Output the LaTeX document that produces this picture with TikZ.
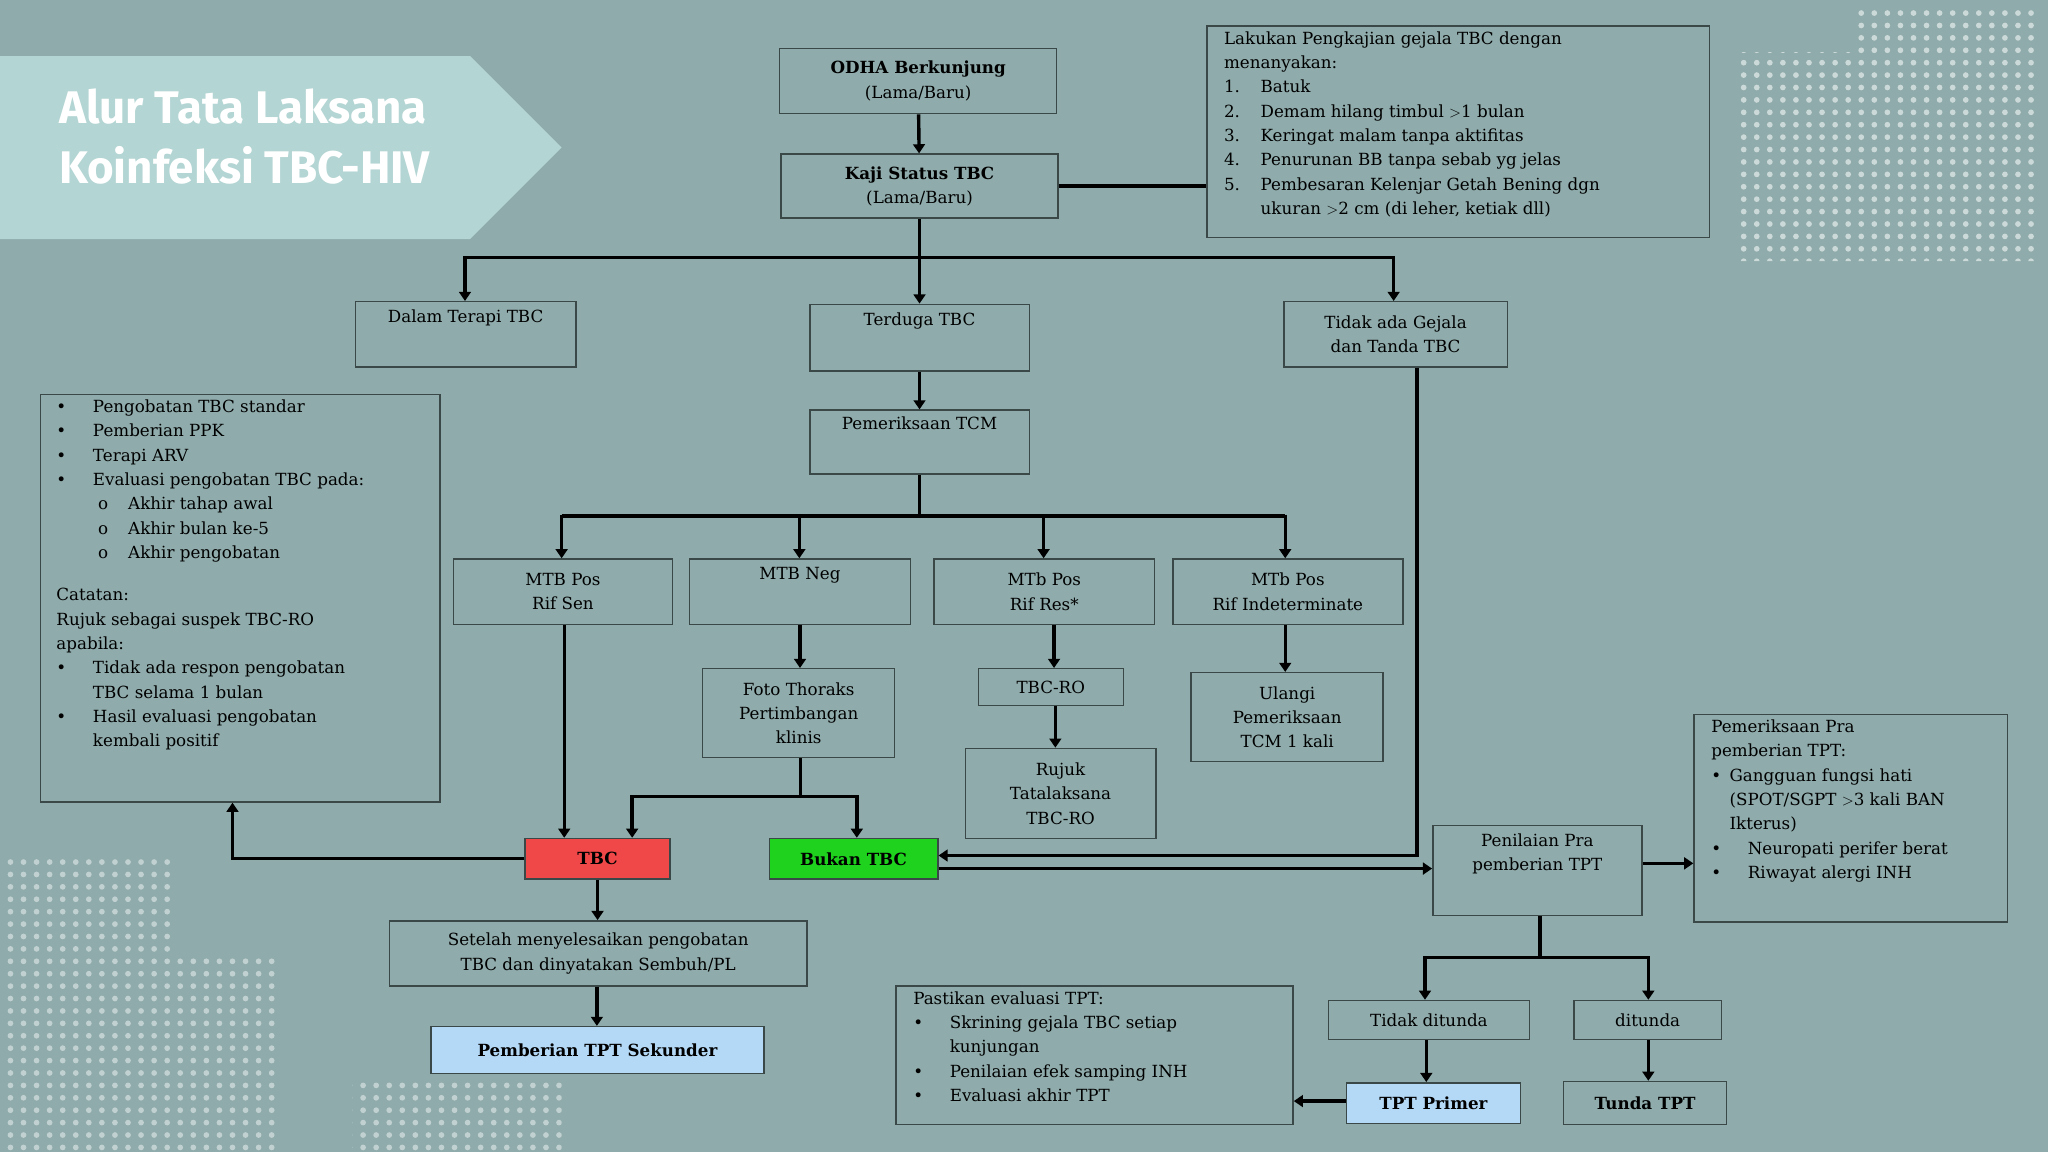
\documentclass[tikz,border=0pt]{standalone}
\usepackage{fontspec}
\setmainfont{DejaVu Serif}
\newfontfamily\titlef{Fira Sans}
\usetikzlibrary{arrows.meta}
\definecolor{bg}{HTML}{8FABAB}
\definecolor{ban}{HTML}{B3D5D3}
\definecolor{ln}{HTML}{3A4848}
\definecolor{redb}{HTML}{F04848}
\definecolor{grnb}{HTML}{1ED21E}
\definecolor{blub}{HTML}{B3D9F7}
\newcommand{\bl}[1]{\makebox[28pt][l]{\textbullet}#1}
\newcommand{\ci}[1]{\hspace{32pt}\makebox[23pt][l]{o}#1}
\newcommand{\ind}[1]{\hspace{28pt}#1}
\begin{document}
\begin{tikzpicture}[x=1pt,y=-1pt,font=\fontsize{12.8}{18.6}\selectfont,
  box/.style={draw=ln,line width=1.1pt,fill=bg,align=center,inner sep=2pt},
  txt/.style={align=left,anchor=north west,inner sep=0pt},
  con/.style={line width=2.6pt,black},
  arr/.style={con,-{Triangle[length=7pt,width=9pt]}}]
\fill[bg] (0,0) rectangle (1568,882);
\useasboundingbox (0,0) rectangle (1568,882);
% dots
\begin{scope}
\clip (1330,40) rectangle (1560,200) (1420,5) rectangle (1560,40);
\foreach \i in {0,...,24} \foreach \j in {0,...,20}
  \fill[white,opacity=0.55] (1325+\i*10,10+\j*9.5) circle (2.2);
\end{scope}
\foreach \i in {0,...,5} \fill[white,opacity=0.5] (1215+\i*10,78) circle (2.2);
\foreach \i in {0,...,4} \fill[white,opacity=0.5] (1240+\i*10,53) circle (2.2);
\begin{scope}
\clip (0,655) rectangle (135,882) (0,730) rectangle (215,882) (270,825) rectangle (430,882);
\foreach \i in {0,...,42} \foreach \j in {0,...,23}
  \fill[white,opacity=0.45] (8+\i*10,660+\j*9.5) circle (2.2);
\end{scope}
% banner
\fill[ban] (0,43) -- (360,43) -- (430,113) -- (360,183) -- (0,183) -- cycle;
\node[txt,text=white,font=\titlef\bfseries\fontsize{35}{46}\selectfont] (title) at (45,68) {Alur Tata Laksana\\Koinfeksi TBC-HIV};
% nodes
\node[box,minimum width=212,minimum height=50] (odha) at (703,62) {\textbf{ODHA Berkunjung}\\(Lama/Baru)};
\node[box,minimum width=212,minimum height=49] (kaji) at (704,142.5) {\textbf{Kaji Status TBC}\\(Lama/Baru)};
\node[box,minimum width=385,minimum height=162] (gej) at (1116.5,101) {};
\node[txt] (gejt) at (937,24) {Lakukan Pengkajian gejala TBC dengan\\menanyakan:\\
\makebox[28pt][l]{1.}Batuk\\\makebox[28pt][l]{2.}Demam hilang timbul $>$1 bulan\\
\makebox[28pt][l]{3.}Keringat malam tanpa aktifitas\\\makebox[28pt][l]{4.}Penurunan BB tanpa sebab yg jelas\\
\makebox[28pt][l]{5.}Pembesaran Kelenjar Getah Bening dgn\\\ind{ukuran $>$2 cm (di leher, ketiak dll)}};
\node[box,minimum width=169,minimum height=50] (dalam) at (356.5,256) {Dalam Terapi TBC\\[10pt]};
\node[box,minimum width=168,minimum height=51] (terd) at (704,258.5) {Terduga TBC\\[10pt]};
\node[box,minimum width=171,minimum height=50] (tidak) at (1068.5,256) {Tidak ada Gejala\\dan Tanda TBC};
\node[box,minimum width=168,minimum height=49] (tcm) at (704,338.5) {Pemeriksaan TCM\\[10pt]};
\node[box,minimum width=168,minimum height=50] (pos) at (431,453) {MTB Pos\\Rif Sen};
\node[box,minimum width=169,minimum height=50] (neg) at (612.5,453) {MTB Neg\\[10pt]};
\node[box,minimum width=169,minimum height=50] (res) at (799.5,453) {MTb Pos\\Rif Res*};
\node[box,minimum width=176,minimum height=50] (indt) at (986,453) {MTb Pos\\Rif Indeterminate};
\node[box,minimum width=147,minimum height=68] (foto) at (611.5,546) {Foto Thoraks\\Pertimbangan\\klinis};
\node[box,minimum width=111,minimum height=28] (ro) at (804.5,526) {TBC-RO};
\node[box,minimum width=146,minimum height=69] (rujuk) at (812,607.5) {Rujuk\\Tatalaksana\\TBC-RO};
\node[box,minimum width=147,minimum height=68] (ulang) at (985.5,549) {Ulangi\\Pemeriksaan\\TCM 1 kali};
\node[box,fill=redb,minimum width=111,minimum height=31] (tbc) at (457.5,657.5) {\textbf{TBC}};
\node[box,fill=grnb,minimum width=129,minimum height=31] (bukan) at (653.5,657.5) {\textbf{Bukan TBC}};
\node[box,minimum width=306,minimum height=312] (left) at (184,458) {};
\node[txt] (leftt) at (43,306) {\bl{Pengobatan TBC standar}\\\bl{Pemberian PPK}\\\bl{Terapi ARV}\\
\bl{Evaluasi pengobatan TBC pada:}\\\ci{Akhir tahap awal}\\\ci{Akhir bulan ke-5}\\\ci{Akhir pengobatan}\\[14pt]
Catatan:\\Rujuk sebagai suspek TBC-RO\\apabila:\\\bl{Tidak ada respon pengobatan}\\\ind{TBC selama 1 bulan}\\
\bl{Hasil evaluasi pengobatan}\\\ind{kembali positif}};
\node[box,minimum width=320,minimum height=50] (set) at (458,730) {Setelah menyelesaikan pengobatan\\TBC dan dinyatakan Sembuh/PL};
\node[box,fill=blub,minimum width=255,minimum height=36] (sek) at (457.5,804) {\textbf{Pemberian TPT Sekunder}};
\node[box,minimum width=160,minimum height=69] (pen) at (1177,666.5) {Penilaian Pra\\pemberian TPT\\[10pt]};
\node[box,minimum width=240,minimum height=159] (pra) at (1417,626.5) {};
\node[txt] (prat) at (1310,551) {Pemeriksaan Pra\\pemberian TPT:\\\makebox[14pt][l]{\textbullet}Gangguan fungsi hati\\
\hspace{14pt}(SPOT/SGPT $>$3 kali BAN\\\hspace{14pt}Ikterus)\\\makebox[28pt][l]{\textbullet}Neuropati perifer berat\\\makebox[28pt][l]{\textbullet}Riwayat alergi INH};
\node[box,minimum width=154,minimum height=30] (tdt) at (1094,781) {Tidak ditunda};
\node[box,minimum width=113,minimum height=30] (dt) at (1261.5,781) {ditunda};
\node[box,fill=blub,minimum width=133,minimum height=31] (prim) at (1097.5,844.5) {\textbf{TPT Primer}};
\node[box,minimum width=125,minimum height=33] (tunda) at (1259.5,844.5) {\textbf{Tunda TPT}};
\node[box,minimum width=304,minimum height=106] (pas) at (838,808) {};
\node[txt] (past) at (699,759) {Pastikan evaluasi TPT:\\\bl{Skrining gejala TBC setiap}\\\ind{kunjungan}\\
\bl{Penilaian efek samping INH}\\\bl{Evaluasi akhir TPT}};
% connectors
\draw[arr] (odha) -- (kaji);
\draw[con] (kaji.east) -- (gej.west |- kaji.east);
\draw[arr] (kaji.south) -- (terd.north);
\draw[con] (356,197) -- (1067,197);
\draw[arr] (356,196) -- (dalam.north -| 356,0);
\draw[arr] (1067,196) -- (tidak.north -| 1067,0);
\draw[arr] (terd) -- (tcm);
\draw[con] (tcm.south) -- (704,395);
\draw[con] (430,395) -- (984,395);
\draw[arr] (430,394) -- (pos.north -| 430,0);
\draw[arr] (612,394) -- (neg.north -| 612,0);
\draw[arr] (799,394) -- (res.north -| 799,0);
\draw[arr] (984,394) -- (indt.north -| 984,0);
\draw[arr] (neg.south) -- (foto.north -| neg.south);
\draw[arr] (res.south -| 807,0) -- (ro.north -| 807,0);
\draw[arr] (ro.south -| 808,0) -- (rujuk.north -| 808,0);
\draw[arr] (indt.south -| 984,0) -- (ulang.north -| 984,0);
\draw[arr] (pos.south -| 432,0) -- (tbc.north -| 432,0);
\draw[con] (foto.south -| 613,0) -- (613,610);
\draw[con] (484,610) -- (656,610);
\draw[arr] (484,609) -- (tbc.north -| 484,0);
\draw[arr] (656,609) -- (bukan.north -| 656,0);
\draw[arr] (tidak.south -| 1085,0) -- (1085,655) -- (bukan.east |- 0,655);
\draw[arr] (bukan.east |- 0,665) -- (pen.west |- 0,665);
\draw[arr] (tbc.west) -- (178,657.5) -- (left.south -| 178,0);
\draw[arr] (tbc.south) -- (set.north -| tbc.south);
\draw[arr] (set.south -| 457,0) -- (sek.north -| 457,0);
\draw[arr] (pen.east |- 0,661) -- (pra.west |- 0,661);
\draw[con] (pen.south -| 1179,0) -- (1179,733);
\draw[con] (1091,733) -- (1262,733);
\draw[arr] (1091,732) -- (tdt.north -| 1091,0);
\draw[arr] (1262,732) -- (dt.north -| 1262,0);
\draw[arr] (tdt.south -| 1092,0) -- (prim.north -| 1092,0);
\draw[arr] (dt.south -| 1262,0) -- (tunda.north -| 1262,0);
\draw[arr] (prim.west |- 0,843) -- (pas.east |- 0,843);
\end{tikzpicture}
\end{document}
